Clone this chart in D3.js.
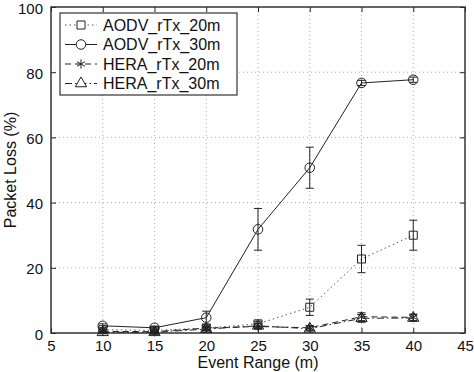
<!DOCTYPE html>
<html>
<head>
<meta charset="utf-8">
<script src="https://cdn.jsdelivr.net/npm/d3@7"></script>
<style>
  body { margin: 0; background: #fff; }
  svg { font-family: "Liberation Sans", Arial, sans-serif; }
</style>
</head>
<body>
<svg id="chart" width="474" height="372"></svg>
<script>
// event range (m)
const ranges = [10, 15, 20, 25, 30, 35, 40];

// packet loss (%) and error half-widths
const aodv20 = [1.0, 0.8, 1.5, 2.8, 7.9, 22.7, 30.0];
const aodv20Err = [0.5, 0.5, 0.5, 0.8, 2.5, 4.2, 4.6];
const aodv30 = [2.2, 1.6, 4.7, 31.8, 50.7, 76.7, 77.7];
const aodv30Err = [0.6, 0.5, 2.0, 6.4, 6.3, 0.8, 0.8];
const hera20 = [0.5, 0.4, 1.5, 2.0, 1.6, 5.0, 4.8];
const hera20Err = [0.5, 0.5, 0.7, 0.8, 0.7, 1.2, 1.0];
const hera30 = [0.2, 0.2, 1.2, 2.2, 1.3, 4.5, 4.6];
const hera30Err = [0.3, 0.3, 0.5, 0.8, 0.6, 1.2, 1.0];

const xTicks = [5, 10, 15, 20, 25, 30, 35, 40, 45];
const yTicks = [0, 20, 40, 60, 80, 100];

const series = [
  { name: 'AODV_rTx_20m', values: aodv20, err: aodv20Err, dash: '1.5,3', marker: 'square', stroke: '#555' },
  { name: 'AODV_rTx_30m', values: aodv30, err: aodv30Err, dash: null, marker: 'circle', stroke: '#222' },
  { name: 'HERA_rTx_20m', values: hera20, err: hera20Err, dash: '6,4', marker: 'star', stroke: '#222' },
  { name: 'HERA_rTx_30m', values: hera30, err: hera30Err, dash: '7,3,1.5,3', marker: 'triangle', stroke: '#222' }
];

const svg = d3.select('#chart');
const margin = { left: 51, right: 9, top: 7, bottom: 39 };
const width = 474 - margin.left - margin.right;
const height = 372 - margin.top - margin.bottom;

const x = d3.scaleLinear().domain([5, 45]).range([0, width]);
const y = d3.scaleLinear().domain([0, 100]).range([height, 0]);

const g = svg.append('g').attr('transform', `translate(${margin.left},${margin.top})`);

// grid
g.append('g').selectAll('line').data(xTicks.slice(1, -1)).join('line')
  .attr('x1', d => x(d)).attr('x2', d => x(d)).attr('y1', 0).attr('y2', height)
  .attr('stroke', '#999').attr('stroke-width', 0.8).attr('stroke-dasharray', '1,3');
g.append('g').selectAll('line').data(yTicks.slice(1, -1)).join('line')
  .attr('y1', d => y(d)).attr('y2', d => y(d)).attr('x1', 0).attr('x2', width)
  .attr('stroke', '#999').attr('stroke-width', 0.8).attr('stroke-dasharray', '1,3');

// axes with inward ticks
const axisStyle = sel => {
  sel.select('.domain').remove();
  sel.selectAll('line').attr('stroke', '#222');
  sel.selectAll('text').attr('fill', '#111').style('font-size', '15px');
};
g.append('g').attr('transform', `translate(0,${height})`)
  .call(d3.axisBottom(x).tickValues(xTicks).tickSize(-5).tickPadding(7))
  .call(axisStyle);
g.append('g')
  .call(d3.axisTop(x).tickValues(xTicks).tickSize(-5).tickFormat(''))
  .call(axisStyle);
g.append('g')
  .call(d3.axisLeft(y).tickValues(yTicks).tickSize(-5).tickPadding(8))
  .call(axisStyle)
  .selectAll('text').attr('dy', '0.4em');
g.append('g').attr('transform', `translate(${width},0)`)
  .call(d3.axisRight(y).tickValues(yTicks).tickSize(-5).tickFormat(''))
  .call(axisStyle);

g.append('rect').attr('width', width).attr('height', height)
  .attr('fill', 'none').attr('stroke', '#333').attr('stroke-width', 1.5);

// markers
const symbolFor = {
  square: d3.symbol().type(d3.symbolSquare).size(64),
  circle: d3.symbol().type(d3.symbolCircle).size(72),
  star: d3.symbol().type(d3.symbolAsterisk).size(60),
  triangle: d3.symbol().type(d3.symbolTriangle).size(55)
};

const line = d3.line().x((d, i) => x(ranges[i])).y(d => y(d));

series.forEach(s => {
  const sg = g.append('g');
  sg.append('path').datum(s.values)
    .attr('d', line).attr('fill', 'none')
    .attr('stroke', s.stroke).attr('stroke-width', 1)
    .attr('stroke-dasharray', s.dash);

  // error bars
  const eb = sg.selectAll('.eb').data(s.values).join('g').attr('class', 'eb');
  eb.append('line')
    .attr('x1', (d, i) => x(ranges[i])).attr('x2', (d, i) => x(ranges[i]))
    .attr('y1', (d, i) => y(d - s.err[i])).attr('y2', (d, i) => y(d + s.err[i]))
    .attr('stroke', '#222');
  eb.selectAll('.cap').data((d, i) => [[i, d - s.err[i]], [i, d + s.err[i]]]).join('line')
    .attr('class', 'cap')
    .attr('x1', d => x(ranges[d[0]]) - 4).attr('x2', d => x(ranges[d[0]]) + 4)
    .attr('y1', d => y(d[1])).attr('y2', d => y(d[1]))
    .attr('stroke', '#222');

  sg.selectAll('.mk').data(s.values).join('path').attr('class', 'mk')
    .attr('transform', (d, i) => `translate(${x(ranges[i])},${y(d)})`)
    .attr('d', symbolFor[s.marker])
    .attr('fill', 'none').attr('stroke', '#222').attr('stroke-width', 1);
});

// legend
const lg = g.append('g').attr('transform', 'translate(9,6)');
lg.append('rect').attr('width', 177).attr('height', 82)
  .attr('fill', '#fff').attr('stroke', '#333').attr('stroke-width', 1.2);
series.forEach((s, i) => {
  const yy = 12 + i * 19.5;
  lg.append('line').attr('x1', 5).attr('x2', 37).attr('y1', yy).attr('y2', yy)
    .attr('stroke', s.stroke).attr('stroke-dasharray', s.dash);
  lg.append('path').attr('transform', `translate(21,${yy})`)
    .attr('d', symbolFor[s.marker]).attr('fill', '#fff').attr('stroke', '#222');
  lg.append('text').attr('x', 43).attr('y', yy).attr('dy', '0.36em')
    .style('font-size', '16px').attr('fill', '#111').text(s.name);
});

// axis titles
svg.append('text').attr('x', margin.left + width / 2).attr('y', 368)
  .attr('text-anchor', 'middle').style('font-size', '16px').attr('fill', '#111')
  .text('Event Range (m)');
svg.append('text')
  .attr('transform', `translate(16,${margin.top + height / 2}) rotate(-90)`)
  .attr('text-anchor', 'middle').style('font-size', '16px').attr('fill', '#111')
  .text('Packet Loss (%)');
</script>
</body>
</html>
